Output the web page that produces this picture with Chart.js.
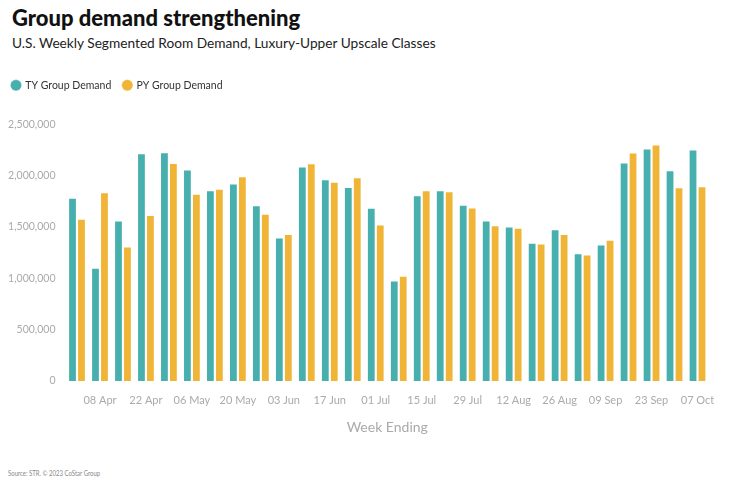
<!DOCTYPE html>
<html>
<head>
<meta charset="utf-8">
<script src="https://cdn.jsdelivr.net/npm/chart.js@4.4.0/dist/chart.umd.min.js"></script>
<style>
  body { margin: 0; background: #fff; font-family: Lato, sans-serif; }
  #wrap { position: relative; width: 730px; height: 486px; overflow: hidden; }
  #title { position: absolute; left: 12px; top: 4px; font-size: 22px; font-weight: 900; color: #111; }
  #subtitle { position: absolute; left: 12px; top: 34px; font-size: 13.7px; color: #222; }
  #source { position: absolute; left: 8px; top: 469px; font-size: 7.5px; color: #888; transform: scaleX(0.8); transform-origin: left; white-space: nowrap; }
  #box { position: absolute; left: 0; top: 68px; width: 730px; height: 380px; }
</style>
</head>
<body>
<div id="wrap">
  <div id="title">Group demand strengthening</div>
  <div id="subtitle">U.S. Weekly Segmented Room Demand, Luxury-Upper Upscale Classes</div>
  <div id="box"><canvas id="chart"></canvas></div>
  <div id="source">Source: STR. © 2023 CoStar Group</div>
</div>
<script>
const weeks = ['01 Apr', '08 Apr', '15 Apr', '22 Apr', '29 Apr', '06 May', '13 May', '20 May',
  '27 May', '03 Jun', '10 Jun', '17 Jun', '24 Jun', '01 Jul', '08 Jul', '15 Jul', '22 Jul',
  '29 Jul', '05 Aug', '12 Aug', '19 Aug', '26 Aug', '02 Sep', '09 Sep', '16 Sep', '23 Sep',
  '30 Sep', '07 Oct'];

const tyDemand = [1787000, 1103000, 1565000, 2220000, 2229000, 2061000, 1858000, 1924000,
  1712000, 1399000, 2090000, 1966000, 1891000, 1689000, 979000, 1810000, 1858000,
  1719000, 1565000, 1507000, 1348000, 1478000, 1246000, 1331000, 2129000, 2266000,
  2054000, 2256000];

const pyDemand = [1582000, 1839000, 1311000, 1617000, 2125000, 1826000, 1875000, 1995000,
  1631000, 1432000, 2122000, 1943000, 1985000, 1526000, 1025000, 1858000, 1849000,
  1692000, 1517000, 1494000, 1341000, 1432000, 1233000, 1377000, 2226000, 2305000,
  1888000, 1898000];

const yTicks = [0, 500000, 1000000, 1500000, 2000000, 2500000];

// push the plot down a bit below the legend
const legendGap = {
  id: 'legendGap',
  beforeInit(chart) {
    const fit = chart.legend.fit;
    chart.legend.fit = function () {
      fit.bind(chart.legend)();
      this.height += 24;
    };
  }
};

new Chart(document.getElementById('chart'), {
  type: 'bar',
  data: {
    labels: weeks,
    datasets: [{
      label: 'TY Group Demand',
      data: tyDemand,
      backgroundColor: '#47b0ae',
      borderColor: 'rgba(255,255,255,0.45)',
      borderWidth: 1
    }, {
      label: 'PY Group Demand',
      data: pyDemand,
      backgroundColor: '#f0b436',
      borderColor: 'rgba(255,255,255,0.45)',
      borderWidth: 1
    }]
  },
  options: {
    responsive: true,
    maintainAspectRatio: false,
    animation: false,
    layout: { padding: { left: 0, right: 21, top: 0, bottom: 12 } },
    datasets: { bar: { categoryPercentage: 0.78, barPercentage: 0.98 } },
    plugins: {
      tooltip: { enabled: false },
      legend: {
        position: 'top',
        align: 'start',
        labels: {
          usePointStyle: true,
          pointStyle: 'circle',
          boxWidth: 8,
          boxHeight: 8,
          padding: 12,
          color: '#333',
          font: { family: 'Lato', size: 10.5 }
        }
      }
    },
    scales: {
      x: {
        grid: { display: false, drawTicks: false },
        border: { display: false },
        ticks: {
          autoSkip: false,
          maxRotation: 0,
          padding: 13,
          color: '#aaa',
          font: { family: 'Lato', size: 11 },
          callback: (v, i) => (i % 2 === 1 ? weeks[i] : '')
        },
        title: {
          display: true,
          text: 'Week Ending',
          color: '#aaa',
          padding: { top: -1, bottom: 0 },
          font: { family: 'Lato', size: 14 }
        }
      },
      y: {
        min: 0,
        max: 2500000,
        afterFit: s => { s.width = 65.5; },
        afterBuildTicks: s => { s.ticks = yTicks.map(v => ({ value: v })); },
        grid: { display: false, drawTicks: false },
        border: { display: false },
        ticks: {
          padding: 10,
          color: '#aaa',
          font: { family: 'Lato', size: 10.5 },
          callback: v => v.toLocaleString('en-US')
        }
      }
    }
  },
  plugins: [legendGap]
});
</script>
</body>
</html>
